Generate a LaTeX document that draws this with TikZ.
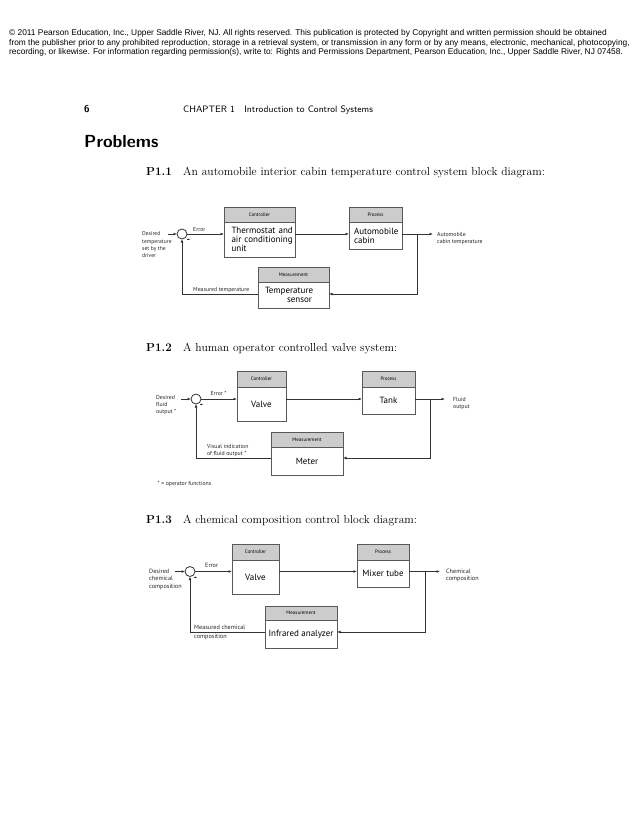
\documentclass[tikz,border=0pt]{standalone}
\usepackage{fontspec}
\newfontfamily\cpfont{Liberation Sans}
\newfontfamily\bdfont{PT Sans}
\usetikzlibrary{positioning,arrows.meta}
\tikzset{
  hd/.style={draw=black!65,fill=black!20,inner sep=0pt,outer sep=0pt,font=\bdfont\fontsize{5}{6}\selectfont},
  bd/.style={draw=black!65,fill=white,inner sep=0pt,outer sep=0pt,font=\bdfont\fontsize{9}{9}\selectfont},
  sumpt/.style={circle,draw=black!80,fill=white,minimum size=10pt,inner sep=0pt,outer sep=0pt,line width=.8pt},
  sig/.style={draw=black!80,line width=.9pt},
  lbl/.style={font=\bdfont\fontsize{5.8}{7}\selectfont,align=left,inner sep=0pt,anchor=base west,text=black!85},
  minus/.style={font=\bdfont\bfseries\fontsize{9}{9}\selectfont,inner sep=0pt},
  txt/.style={inner sep=0pt,anchor=base west},
}
\begin{document}
\begin{tikzpicture}[x=1pt,y=-1pt,>={Latex[length=3.5pt,width=2.8pt]}]
\fill[white](0,0) rectangle (638,826);
\useasboundingbox (0,0) rectangle (638,826);

\node[txt,align=left,font=\cpfont\fontsize{8.35}{9.5}\selectfont] (copy) at (9,55) {© 2011 Pearson Education, Inc., Upper Saddle River, NJ. All rights reserved. This publication is protected by Copyright and written permission should be obtained\\from the publisher prior to any prohibited reproduction, storage in a retrieval system, or transmission in any form or by any means, electronic, mechanical, photocopying,\\recording, or likewise. For information regarding permission(s), write to: Rights and Permissions Department, Pearson Education, Inc., Upper Saddle River, NJ 07458.};

\node[txt,font=\sffamily\bfseries\fontsize{10}{12}\selectfont] (pg) at (84,113) {6};
\node[txt,font=\sffamily\fontsize{9.3}{11}\selectfont] (chap) at (183,113) {CHAPTER 1\quad Introduction to Control Systems};
\node[txt,font=\sffamily\bfseries\fontsize{17.5}{20}\selectfont] (prob) at (84,148) {Problems};

\node[txt,font=\bfseries\fontsize{11.6}{13}\selectfont] (q1) at (146,176) {P1.1};
\node[txt,font=\fontsize{11.6}{13}\selectfont] (q1t) at (183,176) {An automobile interior cabin temperature control system block diagram:};
\node[txt,font=\bfseries\fontsize{11.6}{13}\selectfont] (q2) at (146,351) {P1.2};
\node[txt,font=\fontsize{11.6}{13}\selectfont] (q2t) at (183,351) {A human operator controlled valve system:};
\node[txt,font=\bfseries\fontsize{11.6}{13}\selectfont] (q3) at (146,523.5) {P1.3};
\node[txt,font=\fontsize{11.6}{13}\selectfont] (q3t) at (183,523.5) {A chemical composition control block diagram:};

\begin{scope}
\node[bd,minimum width=71pt,minimum height=35pt,text width=56pt,align=left] (c1) at (259.5,239.5) {\mbox{Thermostat and}\\\mbox{air conditioning}\\unit};
\node[hd,minimum width=71pt,minimum height=15pt,above=0pt of c1] (c1h) {Controller};
\node[bd,minimum width=53pt,minimum height=27pt,text width=43pt,align=left] (p1) at (375.5,235.5) {Automobile\\cabin};
\node[hd,minimum width=53pt,minimum height=15pt,above=0pt of p1] (p1h) {Process};
\node[bd,minimum width=71pt,minimum height=26pt,text width=57pt,align=left] (m1) at (293.5,295) {Temperature\\\hspace*{22pt}sensor};
\node[hd,minimum width=71pt,minimum height=15pt,above=0pt of m1] (m1h) {Measurement};
\node[sumpt] (s1) at (182,234) {};
\node[minus] (n1) at (188.5,240.5) {-};
\coordinate (i1) at (168,234);
\coordinate (b1) at (417,234);
\coordinate (o1) at (433,234);
\coordinate (f1) at (417,294);

\draw[sig,->](i1)--(s1.west);
\draw[sig,->](s1.east)--(s1 -| c1.west);
\draw[sig,->](c1.east |- s1)--(p1.west |- s1);
\draw[sig](p1.east |- s1)--(b1);
\draw[sig,->](b1)--(o1);
\draw[sig,->](b1)--(f1)--(f1 -| m1.east);
\draw[sig,->](m1.west |- f1)-|(s1.south);

\node[lbl,font=\bdfont\fontsize{5.6}{7}\selectfont] (d1) at (142,257) {Desired\\temperature\\set by the\\driver};
\node[lbl] (e1) at (193,231) {Error};
\node[lbl] (y1) at (193,291.5) {Measured temperature};
\node[lbl] (r1) at (437,243.5) {Automobile\\cabin temperature};
\end{scope}

\begin{scope}
\node[bd,minimum width=49pt,minimum height=34pt] (c2) at (261.5,404) {Valve};
\node[hd,minimum width=49pt,minimum height=16pt,above=0pt of c2] (c2h) {Controller};
\node[bd,minimum width=53pt,minimum height=27pt] (p2) at (388.5,400.5) {Tank};
\node[hd,minimum width=53pt,minimum height=16pt,above=0pt of p2] (p2h) {Process};
\node[bd,minimum width=72pt,minimum height=28pt] (m2) at (307,461) {Meter};
\node[hd,minimum width=72pt,minimum height=15pt,above=0pt of m2] (m2h) {Measurement};
\node[sumpt] (s2) at (196,399) {};
\node[minus] (n2) at (201.5,405.5) {-};
\coordinate (i2) at (181,399);
\coordinate (b2) at (430,399);
\coordinate (o2) at (445,399);
\coordinate (f2) at (430,458);

\draw[sig,->](i2)--(s2.west);
\draw[sig,->](s2.east)--(s2 -| c2.west);
\draw[sig,->](c2.east |- s2)--(p2.west |- s2);
\draw[sig](p2.east |- s2)--(b2);
\draw[sig,->](b2)--(o2);
\draw[sig,->](b2)--(f2)--(f2 -| m2.east);
\draw[sig,->](m2.west |- f2)-|(s2.south);

\node[lbl] (d2) at (156,413.5) {Desired\\fluid\\output *};
\node[lbl] (e2) at (210.5,395) {Error *};
\node[lbl] (y2) at (207,455) {Visual indication\\of fluid output *};
\node[lbl] (r2) at (453,408) {Fluid\\output};
\node[lbl] (k2) at (157.5,485.5) {* = operator functions};
\end{scope}

\begin{scope}
\node[bd,minimum width=47pt,minimum height=34pt] (c3) at (255.5,577) {Valve};
\node[hd,minimum width=47pt,minimum height=16pt,above=0pt of c3] (c3h) {Controller};
\node[bd,minimum width=52pt,minimum height=27pt] (p3) at (383,573.5) {Mixer tube};
\node[hd,minimum width=52pt,minimum height=16pt,above=0pt of p3] (p3h) {Process};
\node[bd,minimum width=72pt,minimum height=28pt] (m3) at (301,634) {Infrared analyzer};
\node[hd,minimum width=72pt,minimum height=14pt,above=0pt of m3] (m3h) {Measurement};
\node[sumpt] (s3) at (190,571.5) {};
\node[minus] (n3) at (195.5,578.5) {-};
\coordinate (i3) at (175,571.5);
\coordinate (b3) at (425,571.5);
\coordinate (o3) at (440,571.5);
\coordinate (f3) at (425,632);

\draw[sig,->](i3)--(s3.west);
\draw[sig,->](s3.east)--(s3 -| c3.west);
\draw[sig,->](c3.east |- s3)--(p3.west |- s3);
\draw[sig](p3.east |- s3)--(b3);
\draw[sig,->](b3)--(o3);
\draw[sig,->](b3)--(f3)--(f3 -| m3.east);
\draw[sig,->](m3.west |- f3)-|(s3.south);

\node[lbl,font=\bdfont\fontsize{6.2}{7.6}\selectfont] (d3) at (149,588.2) {Desired\\chemical\\composition};
\node[lbl,font=\bdfont\fontsize{6.2}{7.6}\selectfont] (e3) at (205,567) {Error};
\node[lbl,font=\bdfont\fontsize{6.2}{8.5}\selectfont] (y3) at (194,638) {Measured chemical\\composition};
\node[lbl,font=\bdfont\fontsize{6.2}{7.6}\selectfont] (r3) at (446,580.6) {Chemical\\composition};
\end{scope}
\end{tikzpicture}
\end{document}
